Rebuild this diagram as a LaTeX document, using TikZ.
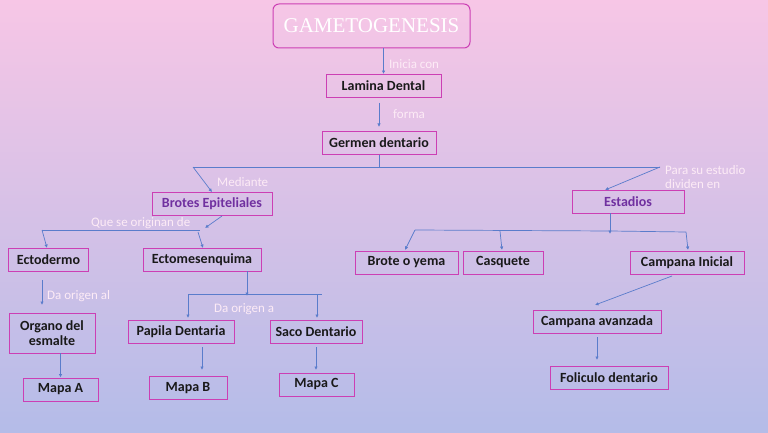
\documentclass[tikz,border=0pt]{standalone}
\usepackage{fontspec}
\setmainfont{Carlito}
\newfontfamily\seriff{Liberation Serif}
\usetikzlibrary{arrows.meta}
\definecolor{bord}{HTML}{CC3FB4}
\definecolor{lnc}{HTML}{5A7CCB}
\definecolor{bgt}{HTML}{F7C6E6}
\definecolor{bgb}{HTML}{B4BCE8}
\definecolor{pur}{HTML}{7030A0}
\begin{document}
\begin{tikzpicture}[x=1pt,y=-1pt,
  box/.style={draw=bord,line width=0.9pt,minimum height=23pt,inner sep=3pt,font=\fontsize{14}{15.5}\selectfont\bfseries,text=black!90},
  pbox/.style={box,text=pur},
  con/.style={draw=lnc,line width=0.7pt},
  arr/.style={con,-{Latex[length=3.5pt,width=3.5pt]}},
  lab/.style={text=white!92!magenta,font=\fontsize{13}{14}\selectfont,anchor=west,inner sep=0}]
\shade[top color=bgt,bottom color=bgb] (0,0) rectangle (768,433);
\useasboundingbox (0,0) rectangle (768,433);
\node[draw=bord,line width=1pt,rounded corners=6pt,minimum width=197pt,minimum height=44pt,text=white,font=\seriff\fontsize{21}{22}\selectfont] (g) at (371.5,26) {GAMETOGENESIS};
\node[box,minimum width=115pt] (ld) at (383.5,86) {Lamina Dental};
\node[box,minimum width=114pt] (gd) at (379,143) {Germen dentario};
\node[pbox,minimum width=120pt] (be) at (212,204) {Brotes Epiteliales};
\node[pbox,minimum width=112pt] (es) at (628,201.5) {Estadios};
\node[box,minimum width=80pt,anchor=west] (ec) at (8,259.5) {Ectodermo};
\node[box,minimum width=118pt] (em) at (202,259.5) {Ectomesenquima};
\node[box,minimum width=86pt,minimum height=40pt,align=center] (oe) at (52,333) {Organo del\\esmalte};
\node[box,minimum width=75pt] (ma) at (60.5,389.5) {Mapa A};
\node[box,minimum width=106pt] (pd) at (181,332) {Papila Dentaria};
\node[box,minimum width=92pt] (sd) at (316,332) {Saco Dentario};
\node[box,minimum width=78pt] (mb) at (188,388) {Mapa B};
\node[box,minimum width=75pt] (mc) at (316.5,384.5) {Mapa C};
\node[box,minimum width=103pt] (by) at (406.5,262.5) {Brote o yema};
\node[box,minimum width=80pt] (ca) at (503,262.5) {Casquete};
\node[box,minimum width=114pt] (ci) at (687,263) {Campana Inicial};
\node[box,minimum width=128pt] (cv) at (597,322) {Campana avanzada};
\node[box,minimum width=118pt] (fd) at (609,377.5) {Foliculo dentario};
% connectors
\draw[arr] (g.south -| ld.north) -- (ld.north);
\node[lab] at (389,64) {Inicia con};
\draw[arr] (gd.north |- 0,103) -- (gd.north |- 0,127);
\node[lab] at (393,114) {forma};
\coordinate (hl) at (193,167); \coordinate (hr) at (660,167);
\draw[con] (gd.south) -- (gd.south |- hl);
\draw[con] (hl) -- (hr);
\draw[arr] (hl) -- (be.north);
\draw[arr] (hr) -- (605,190);
\node[lab] at (217,182) {Mediante};
\node[lab,align=left] at (665,177) {Para su estudio\\dividen en};
\coordinate (q) at (205,228);
\draw[arr] (222,216) -- (q);
\coordinate (ql) at (42,230); \coordinate (qr) at (198,232);
\draw[con] (ql) -- (200,230);
\draw[arr] (ql) -- (47,248);
\draw[arr] (qr) -- (203,248);
\node[lab] at (91,223) {Que se originan de};
\draw[arr] (42,280) -- (42,305);
\node[lab] at (47,296) {Da origen al};
\draw[arr] (oe.south -| ma.north) -- (ma.north);
\coordinate (el) at (188,294); \coordinate (er) at (317,294);
\draw[arr] (247,271) -- (247,296);
\draw[con] (el) -- (322,294);
\draw[arr] (el) -- (188,318);
\draw[arr] (er) -- (317,318);
\node[lab] at (214,309) {Da origen a};
\draw[arr] (202,347) -- (202,370);
\draw[arr] (316,347) -- (316,370);
\coordinate (sl) at (415,230); \coordinate (sr) at (686,232);
\draw[arr] (es.south -| 610,0) -- (610,234);
\draw[con] (sl) -- (610,231) -- (686,232);
\draw[arr] (sl) -- (405,250);
\draw[arr] (500,231) -- (502,250);
\draw[arr] (sr) -- (688,250);
\draw[arr] (672,276) -- (595,305);
\draw[arr] (597,337) -- (597,360);
\end{tikzpicture}
\end{document}
